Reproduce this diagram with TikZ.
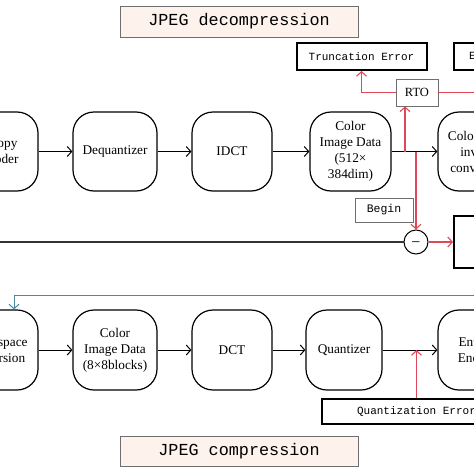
\documentclass[tikz,border=0pt]{standalone}
\usepackage{fontspec}
\setmainfont{Liberation Serif}
\newfontfamily\monof{Liberation Mono}
\usetikzlibrary{arrows.meta}
\definecolor{redl}{RGB}{222,72,88}
\definecolor{tealc}{RGB}{74,138,155}
\definecolor{peach}{RGB}{253,243,236}
\definecolor{grayb}{RGB}{110,110,110}
\tikzset{
  rbox/.style={draw, rounded corners=21pt, line width=1.2pt, align=center,
    font=\fontsize{13.3}{16}\selectfont, inner sep=0pt},
  errbox/.style={draw, line width=2pt, font=\monof\fontsize{11}{13}\selectfont, inner sep=0pt},
  thinbox/.style={draw=grayb, line width=0.8pt, inner sep=0pt},
  titlebox/.style={draw=grayb, fill=peach, line width=0.9pt, inner sep=0pt,
    font=\monof\fontsize{16.8}{18}\selectfont},
  arr/.style={line width=1pt, -{Straight Barb[length=4.5pt,width=10pt]}},
  redarr/.style={draw=redl, line width=1.1pt, -{Straight Barb[length=4.5pt,width=10pt]}},
  tealarr/.style={draw=tealc, line width=1pt, -{Straight Barb[length=4.5pt,width=10pt]}}
}
\begin{document}
\begin{tikzpicture}[x=1pt,y=-1pt]
\useasboundingbox (0,0) rectangle (474,474);
\clip (0,0) rectangle (474,474);
% titles
\node[titlebox, minimum width=238pt, minimum height=31pt] (tdec) at (239,21.5) {JPEG decompression};
\node[titlebox, minimum width=238pt, minimum height=30pt] (tcom) at (239,451) {JPEG compression};
% row 1
\node[rbox, minimum width=84pt, minimum height=79pt] (ed) at (-4,151.5) {Entropy\\Decoder};
\node[rbox, minimum width=84pt, minimum height=79pt] (deq) at (115,151.5) {Dequantizer};
\node[rbox, minimum width=80pt, minimum height=79pt] (idct) at (232,151.5) {IDCT};
\node[rbox, minimum width=81pt, minimum height=79pt] (cid1) at (350.5,151.5) {Color\\Image Data\\(512×\\384dim)};
\node[rbox, minimum width=83pt, minimum height=79pt] (csc1) at (479.5,151.5) {Color space\\inverse\\conversion};
\draw[arr] (ed) -- (deq);
\draw[arr] (deq) -- (idct);
\draw[arr] (idct) -- (cid1);
\draw[arr] (cid1) -- (csc1);
% error boxes top
\node[errbox, minimum width=130pt, minimum height=27pt] (trunc) at (361.5,56.5) {Truncation Error};
\node[errbox, minimum width=130pt, minimum height=27pt, anchor=west, align=left, text width=100pt] (emb) at (453,56.5) {Embedding Error};
\node[thinbox, minimum width=42pt, minimum height=27pt, font=\fontsize{12.5}{14}\selectfont] (rto) at (417,92.5) {RTO};
\coordinate (j1) at (405,151.5);
\coordinate (j2) at (416,151.5);
\draw[redarr] (j1) -- (j1 |- rto.south);
\draw[redarr] (rto.west) -| (trunc.south);
\draw[redarr] (rto.east) -| (emb.south);
% begin and minus
\node[thinbox, minimum width=58pt, minimum height=24pt, font=\monof\fontsize{11.5}{13}\selectfont] (begin) at (384,210) {Begin};
\node[circle, draw, line width=1pt, minimum size=24pt, inner sep=0pt] (minus) at (416,242) {};
\node[anchor=base, inner sep=0pt, font=\fontsize{16}{16}\selectfont] (minsign) at ([yshift=-5.5pt]minus.center) {−};
\draw[redarr] (j2) -- (minus.north);
\node[errbox, minimum width=95pt, minimum height=52pt, anchor=west] (big) at (453,242) {};
\draw[redarr] (minus.east) -- (big.west);
\coordinate (lin) at (-20,242);
\draw[line width=1.4pt, draw=black!80] (lin) -- (minus.west);
% row 2
\node[rbox, minimum width=84pt, minimum height=80pt] (csc2) at (-4,350) {Color space\\conversion};
\node[rbox, minimum width=84pt, minimum height=80pt] (cid2) at (115,350) {Color\\Image Data\\(8×8blocks)};
\node[rbox, minimum width=80pt, minimum height=80pt] (dct) at (232,350) {DCT};
\node[rbox, minimum width=76pt, minimum height=80pt] (quant) at (344,350) {Quantizer};
\node[rbox, minimum width=84pt, minimum height=80pt] (ee) at (480,350) {Entropy\\Encoder};
\draw[arr] (csc2) -- (cid2);
\draw[arr] (cid2) -- (dct);
\draw[arr] (dct) -- (quant);
\draw[arr] (quant) -- (ee);
% teal feedback
\coordinate (tc) at (14,295);
\draw[tealarr] (big.south) |- (tc) -- (tc |- csc2.north);
% quantization error
\node[errbox, minimum width=189pt, minimum height=25pt] (qe) at (416.5,411.5) {Quantization Error};
\draw[redarr] (qe.north) -- (qe.north |- quant.east);
\end{tikzpicture}
\end{document}
